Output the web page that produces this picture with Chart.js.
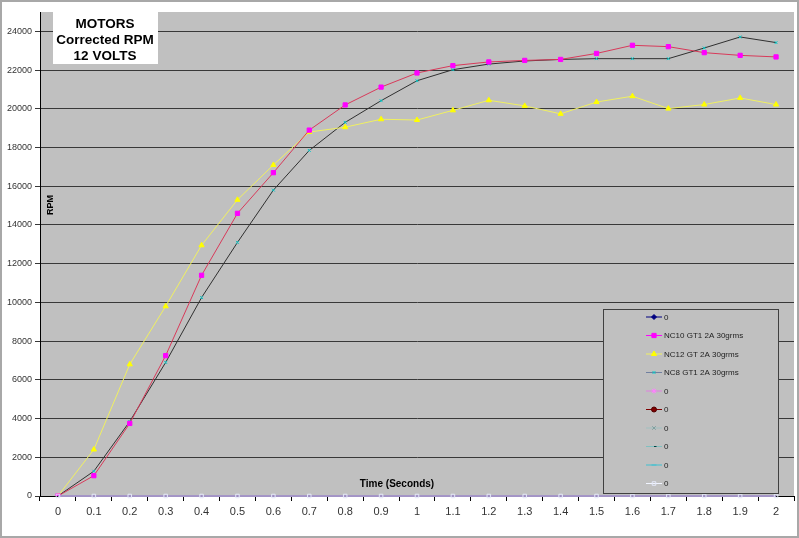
<!DOCTYPE html>
<html>
<head>
<meta charset="utf-8">
<script src="https://cdn.jsdelivr.net/npm/chart.js@4.4.1/dist/chart.umd.min.js"></script>
<style>
html,body{margin:0;padding:0;background:#fff;}
#wrap{width:799px;height:538px;position:relative;}
canvas{display:block;}
</style>
</head>
<body>
<div id="wrap"><canvas id="c" width="799" height="538"></canvas></div>
<script>
const timeLabels = ['0','0.1','0.2','0.3','0.4','0.5','0.6','0.7','0.8','0.9','1','1.1','1.2','1.3','1.4','1.5','1.6','1.7','1.8','1.9','2'];
const nc10Rpm = [0,1050,3750,7250,11400,14600,16700,18900,20200,21120,21850,22230,22420,22500,22550,22860,23280,23210,22900,22760,22680];
const nc12Rpm = [0,2400,6800,9800,12950,15300,17100,18800,19050,19460,19420,19920,20440,20150,19740,20350,20650,20010,20220,20560,20220];
const nc8Rpm  = [0,1280,3850,6900,10250,13100,15800,17850,19300,20420,21450,22020,22310,22470,22550,22590,22590,22590,23140,23710,23420];
const zeroRpm = [0,0,0,0,0,0,0,0,0,0,0,0,0,0,0,0,0,0,0,0,0];
const yTickValues = [0,2000,4000,6000,8000,10000,12000,14000,16000,18000,20000,22000,24000];
const seriesNames = ['0','NC10 GT1 2A 30grms','NC12 GT 2A 30grms','NC8 GT1 2A 30grms','0','0','0','0','0','0'];
const titleLines = ['MOTORS','Corrected RPM','12 VOLTS'];

const FONT = '"Liberation Sans", Arial, sans-serif';

function zeroSeries(name, color, style, mColor, mFill, showOnPlot){
  return {label:name, data:zeroRpm, borderColor:color, backgroundColor:mFill, borderWidth:1,
    pointStyle:style, pointBorderColor:mColor, pointBackgroundColor:mFill,
    pointRadius: showOnPlot ? 2.5 : 0, legendRadius:2.5, tension:0, clip:false, order: showOnPlot ? -1 : 0};
}

const datasets = [
  zeroSeries(seriesNames[0], '#000080', 'rectRot', '#000080', '#000080', false),
  {label:seriesNames[1], data:nc10Rpm, borderColor:'#d83a5a', backgroundColor:'#ff00ff', borderWidth:1,
    pointStyle:'rect', pointRadius:3, pointBorderColor:'#ff00ff', pointBackgroundColor:'#ff00ff', legendRadius:3, legendLine:'#ff00ff'},
  {label:seriesNames[2], data:nc12Rpm, borderColor:'#f0f060', backgroundColor:'#ffff00', borderWidth:1,
    pointStyle:'triangle', pointRadius:3, pointBorderColor:'#ffff00', pointBackgroundColor:'#ffff00', legendRadius:3},
  {label:seriesNames[3], data:nc8Rpm, borderColor:'#303030', backgroundColor:'#00cccc', borderWidth:1,
    pointStyle:'crossRot', pointRadius:2, pointBorderColor:'#00c8c8', pointBackgroundColor:'#00c8c8', legendRadius:2, legendLine:'#7080a0'},
  zeroSeries(seriesNames[4], '#e080e0', 'star', '#ff80ff', '#ff80ff', false),
  zeroSeries(seriesNames[5], '#800000', 'circle', '#500000', '#800000', false),
  zeroSeries(seriesNames[6], '#a0c0c0', 'crossRot', '#80a0a0', '#80a0a0', false),
  zeroSeries(seriesNames[7], '#80c0c0', 'dash', '#004040', '#004040', false),
  zeroSeries(seriesNames[8], '#40c0d0', 'line', '#40c0d0', '#40c0d0', false),
  zeroSeries(seriesNames[9], '#f0f4ff', 'rect', '#e4e8f8', 'rgba(0,0,0,0)', true)
];

const bgPlugin = {
  id:'bg',
  beforeDraw(chart){
    const {ctx, chartArea:a} = chart;
    ctx.save();
    ctx.fillStyle = '#fff';
    ctx.fillRect(0,0,chart.width,chart.height);
    ctx.fillStyle = '#c0c0c0';
    ctx.fillRect(a.left, a.top, a.right-a.left, a.bottom-a.top);
    ctx.strokeStyle = '#a8a8a8';
    ctx.lineWidth = 2;
    ctx.strokeRect(1,1,chart.width-2,chart.height-2);
    ctx.restore();
  },
  afterDraw(chart){
    const {ctx, chartArea:a} = chart;
    ctx.save();
    // title box
    ctx.fillStyle = '#fff';
    ctx.fillRect(53, 12, 105, 52);
    ctx.fillStyle = '#000';
    ctx.font = 'bold 13.5px ' + FONT;
    ctx.textAlign = 'center';
    ctx.textBaseline = 'middle';
    titleLines.forEach((t,i)=>ctx.fillText(t, 105, 24 + i*16));
    // axis titles
    ctx.font = 'bold 10px ' + FONT;
    ctx.fillText('Time (Seconds)', 397, 484);
    ctx.save();
    ctx.translate(51, 205);
    ctx.rotate(-Math.PI/2);
    ctx.font = 'bold 9px ' + FONT;
    ctx.fillText('RPM', 0, 0);
    ctx.restore();
    // legend box
    const lx = 603, ly = 309, lw = 175, lh = 184;
    ctx.fillStyle = '#c0c0c0';
    ctx.fillRect(lx, ly, lw, lh);
    ctx.strokeStyle = '#404040';
    ctx.lineWidth = 1;
    ctx.strokeRect(lx+0.5, ly+0.5, lw, lh);
    chart.data.datasets.forEach((ds, i)=>{
      const y = 317 + i*18.5;
      ctx.strokeStyle = ds.legendLine || ds.borderColor;
      ctx.lineWidth = 1;
      ctx.beginPath(); ctx.moveTo(646, y); ctx.lineTo(662, y); ctx.stroke();
      ctx.fillStyle = ds.pointBackgroundColor;
      ctx.strokeStyle = ds.pointBorderColor;
      Chart.helpers.drawPoint(ctx, {pointStyle: ds.pointStyle, radius: ds.legendRadius, borderWidth:1, rotation:0}, 654, y);
      ctx.fillStyle = '#222';
      ctx.font = '8px ' + FONT;
      ctx.textAlign = 'left';
      ctx.textBaseline = 'middle';
      ctx.fillText(ds.label, 664, y+0.5);
    });
    ctx.restore();
  }
};

new Chart(document.getElementById('c'), {
  type:'line',
  data:{labels:timeLabels, datasets:datasets},
  options:{
    responsive:false,
    animation:false,
    devicePixelRatio:1,
    layout:{padding:{top:12, right:5, left:0, bottom:0}},
    plugins:{legend:{display:false}, tooltip:{enabled:false}},
    elements:{line:{tension:0}},
    scales:{
      x:{
        type:'category',
        offset:true,
        grid:{display:true, offset:true, drawOnChartArea:false, drawTicks:true, tickLength:5, color:'#000'},
        border:{display:true, color:'#000'},
        ticks:{color:'#333', font:{family:FONT, size:11}, padding:4, maxRotation:0, autoSkip:false},
        afterFit(s){ s.height = 42; }
      },
      y:{
        min:0, max:25000,
        afterBuildTicks(s){ s.ticks = yTickValues.map(v=>({value:v})); },
        grid:{color:'#383838', drawTicks:true, tickLength:5},
        border:{display:true, color:'#000'},
        ticks:{color:'#333', font:{family:FONT, size:9}, padding:3, callback:(v)=>String(v)},
        afterFit(s){ s.width = 40; }
      }
    }
  },
  plugins:[bgPlugin]
});
</script>
</body>
</html>
